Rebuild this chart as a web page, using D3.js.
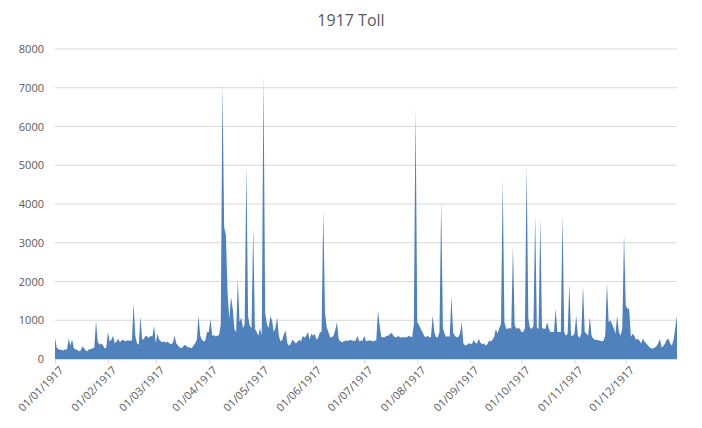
<!DOCTYPE html>
<html>
<head>
<meta charset="utf-8">
<script src="https://cdn.jsdelivr.net/npm/d3@7"></script>
<style>
  body { margin: 0; background: #fff; }
  svg { font-family: "Open Sans", "Liberation Sans", sans-serif; }
</style>
</head>
<body>
<svg id="chart" width="702" height="428"></svg>
<script>
// daily toll per month
const jan = [550,300,250,240,230,220,250,240,520,350,500,280,250,230,200,220,330,280,220,200,260,250,280,290,980,450,370,400,360,270,300];
const feb = [700,450,500,600,400,450,520,430,480,500,450,480,470,480,480,1430,600,400,370,1100,500,520,600,580,550,600,580,850];
const mar = [420,650,500,450,430,450,420,450,400,380,420,600,400,350,300,280,320,370,330,300,300,280,350,400,500,1130,600,500,450,480,700];
const apr = [700,1030,600,620,580,600,620,900,7100,3400,3200,1700,1030,1600,1300,770,690,2060,950,1070,800,900,5000,1100,860,800,3400,780,700,600];
const may = [800,600,7340,1200,900,800,1100,1000,700,800,1070,600,450,500,650,730,400,340,400,500,450,400,450,500,450,600,550,600,700,500,650];
const jun = [600,650,500,550,690,700,3860,1200,820,700,560,560,600,750,950,520,450,440,450,480,470,470,500,470,470,480,600,460,470,480];
const jul = [600,460,470,480,480,450,480,470,1250,860,560,560,560,600,600,640,680,600,560,560,600,550,560,560,560,560,600,580,560,900,6500];
const aug = [950,880,780,700,600,560,600,560,560,1120,700,560,560,700,4070,800,650,560,600,560,1630,680,600,560,560,650,950,400,350,360,400];
const sep = [400,380,500,420,400,520,420,380,400,350,380,480,450,500,570,780,650,800,900,4640,950,780,780,800,780,2920,870,780,800,780];
const oct = [700,700,800,4980,1040,800,780,850,3700,800,780,3650,800,780,780,950,780,700,700,700,1290,700,700,700,3740,700,600,650,1940,600,600];
const nov = [650,1120,600,550,650,1890,700,650,600,1080,600,520,500,500,480,480,450,480,600,1980,950,1000,900,800,650,1120,700,600,800,3220];
const dec = [1380,1300,1300,570,650,600,500,520,480,400,520,450,400,350,300,270,270,300,330,400,520,300,330,400,500,520,400,350,500,800,1120];

const months = [jan, feb, mar, apr, may, jun, jul, aug, sep, oct, nov, dec];
const yTicks = [0,1000,2000,3000,4000,5000,6000,7000,8000];

const data = [];
months.forEach((m, mi) => {
  m.forEach((v, di) => data.push({ date: new Date(1917, mi, di + 1), value: v }));
});

const svg = d3.select("#chart");
const x = d3.scaleTime()
  .domain([new Date(1917, 0, 1), new Date(1917, 11, 31)])
  .range([55, 677]);
const y = d3.scaleLinear().domain([0, 8000]).range([359, 49]);

// gridlines
svg.append("g")
  .selectAll("line")
  .data(yTicks.slice(1))
  .enter()
  .append("line")
  .attr("x1", 55).attr("x2", 677)
  .attr("y1", (d) => y(d)).attr("y2", (d) => y(d))
  .attr("stroke", "#d9d9d9").attr("stroke-width", 1);

// area
const area = d3.area()
  .x((d) => x(d.date))
  .y0(y(0))
  .y1((d) => y(d.value));
svg.append("path").datum(data).attr("d", area).attr("fill", "#4f81bd");

// y axis labels
svg.append("g")
  .selectAll("text")
  .data(yTicks)
  .enter()
  .append("text")
  .attr("x", 44).attr("y", (d) => y(d) + 4)
  .attr("text-anchor", "end")
  .attr("font-size", 11).attr("fill", "#595959")
  .text((d) => d);

// x axis
const fmt = d3.timeFormat("%d/%m/%Y");
const xAxis = svg.append("g")
  .attr("transform", "translate(0,359)")
  .call(d3.axisBottom(x).ticks(d3.timeMonth.every(1)).tickFormat(fmt).tickSize(5).tickSizeOuter(0));
xAxis.select(".domain").attr("stroke", "#d9d9d9");
xAxis.selectAll(".tick line").attr("stroke", "#d9d9d9");
xAxis.selectAll("text")
  .attr("font-size", 11).attr("fill", "#595959")
  .attr("font-family", "\"Open Sans\", sans-serif")
  .attr("text-anchor", "end")
  .attr("dx", "-0.2em").attr("dy", "0.6em")
  .attr("transform", "rotate(-45)");

// title
svg.append("text")
  .attr("x", 351).attr("y", 26)
  .attr("text-anchor", "middle")
  .attr("font-size", 16).attr("fill", "#595959")
  .text("1917 Toll");
</script>
</body>
</html>
